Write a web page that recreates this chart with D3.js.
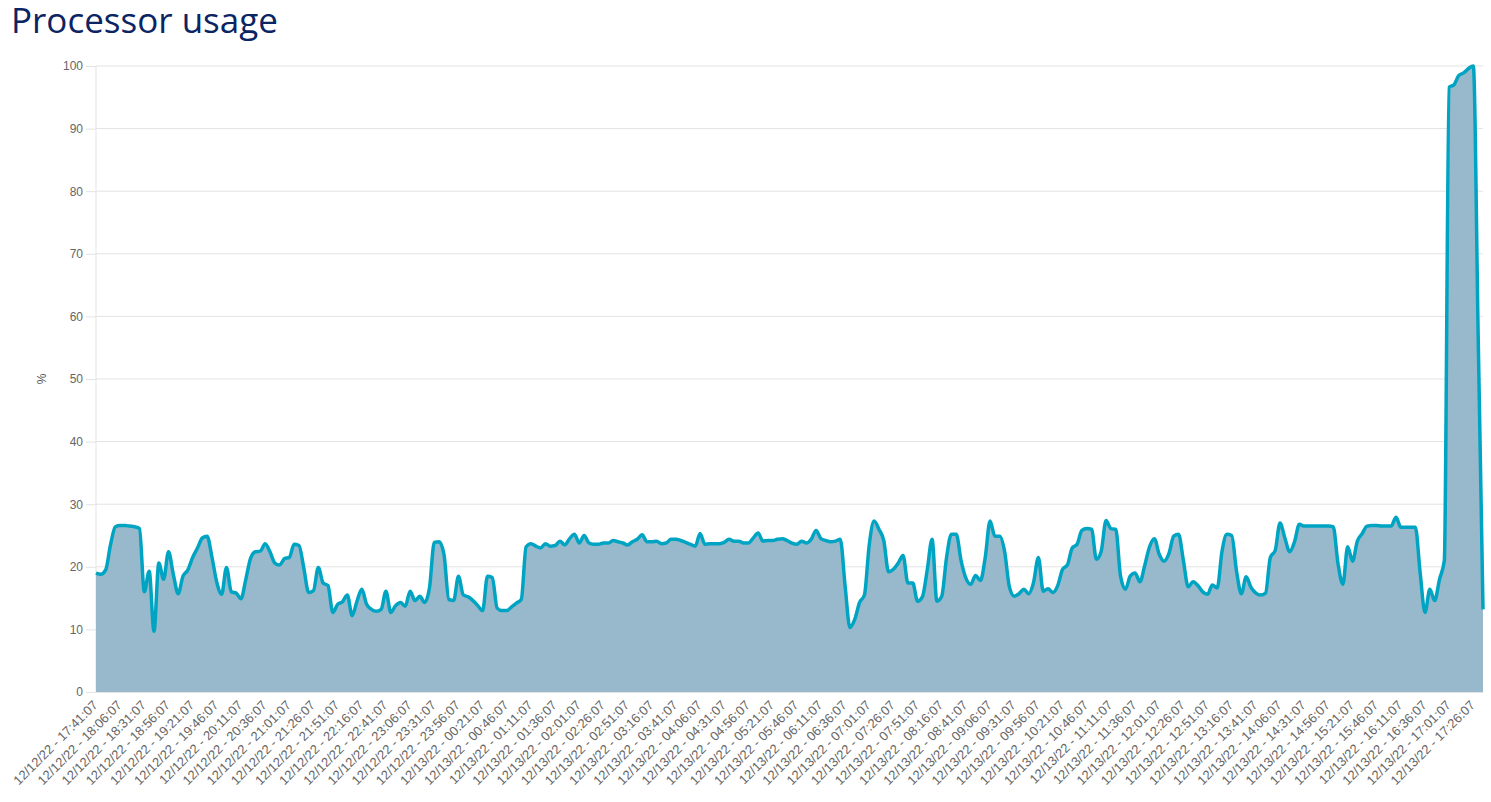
<!DOCTYPE html>
<html>
<head>
<meta charset="utf-8">
<script src="https://cdn.jsdelivr.net/npm/d3@7"></script>
<style>
  html, body { margin: 0; padding: 0; background: #fff; }
  svg { display: block; }
</style>
</head>
<body>
<svg id="chart" width="1491" height="802"></svg>
<script>
const title = "Processor usage";
const yLabel = "%";
const yTicks = [0, 10, 20, 30, 40, 50, 60, 70, 80, 90, 100];

// one sample every 5 minutes, 12/12/22 17:41:07 -> 12/13/22 17:36:07
const usage = [
  19.0, 18.8, 19.5, 23.5, 26.4, 26.6, 26.6, 26.5, 26.4, 26.1,
  16.0, 19.3, 9.7, 20.6, 18.0, 22.4, 18.8, 15.7, 18.5, 19.5,
  21.5, 23.0, 24.6, 24.9, 21.5, 17.5, 15.6, 19.9, 16.0, 15.8,
  14.9, 18.0, 21.4, 22.4, 22.5, 23.7, 22.4, 20.6, 20.3, 21.3,
  21.5, 23.6, 23.4, 19.8, 15.9, 16.2, 19.9, 17.4, 17.0, 12.7,
  14.0, 14.4, 15.5, 12.2, 14.5, 16.4, 14.0, 13.2,
  12.9, 13.2, 16.1, 12.7, 13.8, 14.3, 13.7, 16.1, 14.6, 15.3,
  14.3, 16.6, 23.9, 24.0, 22.0, 14.8, 14.6, 18.5, 15.5, 15.2,
  14.6, 13.8, 13.0, 18.5, 18.3, 13.4, 13.0, 13.0, 13.6, 14.2,
  14.8, 23.2, 23.7, 23.3, 23.0, 23.7, 23.3, 23.4, 24.1, 23.5,
  24.5, 25.2, 23.8, 25.0, 23.8, 23.6, 23.6, 23.8, 23.8, 24.2,
  24.0, 23.8, 23.5, 24.0, 24.4, 25.1, 24.0, 24.0,
  24.1, 23.7, 23.8, 24.4, 24.4, 24.2, 23.9, 23.6, 23.3, 25.3,
  23.6, 23.7, 23.7, 23.7, 23.9, 24.4, 24.1, 24.1, 23.8, 23.8,
  24.6, 25.4, 24.1, 24.2, 24.2, 24.4, 24.5, 24.2, 23.8, 23.6,
  24.1, 23.8, 24.4, 25.8, 24.5, 24.2, 24.0, 24.1, 24.4, 17.0,
  10.3, 11.6, 14.3, 15.5, 23.5, 27.3, 26.0, 24.2, 19.2, 19.6,
  20.6, 21.8, 17.4, 17.4, 14.5, 15.2, 19.5, 24.4,
  14.5, 15.3, 21.5, 25.2, 25.2, 21.0, 18.2, 17.2, 18.6, 17.8,
  21.5, 27.3, 24.9, 24.9, 22.5, 16.8, 15.3, 15.7, 16.4, 15.7,
  17.5, 21.5, 16.1, 16.5, 15.9, 17.0, 19.6, 20.3, 23.0, 23.6,
  25.8, 26.1, 26.0, 21.2, 22.5, 27.4, 26.1, 26.0, 18.5, 16.4,
  18.5, 19.0, 17.6, 20.2, 23.2, 24.5, 22.0, 20.9, 22.1, 24.9,
  25.2, 21.0, 16.8, 17.6, 17.0, 16.0, 15.6, 17.1,
  16.6, 22.5, 25.2, 25.0, 19.3, 15.7, 18.4, 16.7, 15.8, 15.5,
  15.8, 21.5, 22.6, 27.0, 24.6, 22.4, 24.0, 26.8, 26.5, 26.5,
  26.5, 26.5, 26.5, 26.5, 26.4, 20.5, 17.2, 23.2, 20.9, 24.1,
  25.3, 26.5, 26.6, 26.6, 26.5, 26.5, 26.5, 27.9, 26.3, 26.3,
  26.3, 26.3, 19.0, 12.7, 16.4, 14.6, 18.0, 21.0, 96.6, 97.0,
  98.5, 98.9, 99.6, 100, 57.0, 13.2
];

// x-axis labels, one every 5th sample (25 minutes)
const tickLabels = [
  "12/12/22 - 17:41:07", "12/12/22 - 18:06:07", "12/12/22 - 18:31:07", "12/12/22 - 18:56:07",
  "12/12/22 - 19:21:07", "12/12/22 - 19:46:07", "12/12/22 - 20:11:07", "12/12/22 - 20:36:07",
  "12/12/22 - 21:01:07", "12/12/22 - 21:26:07", "12/12/22 - 21:51:07", "12/12/22 - 22:16:07",
  "12/12/22 - 22:41:07", "12/12/22 - 23:06:07", "12/12/22 - 23:31:07", "12/12/22 - 23:56:07",
  "12/13/22 - 00:21:07", "12/13/22 - 00:46:07", "12/13/22 - 01:11:07", "12/13/22 - 01:36:07",
  "12/13/22 - 02:01:07", "12/13/22 - 02:26:07", "12/13/22 - 02:51:07", "12/13/22 - 03:16:07",
  "12/13/22 - 03:41:07", "12/13/22 - 04:06:07", "12/13/22 - 04:31:07", "12/13/22 - 04:56:07",
  "12/13/22 - 05:21:07", "12/13/22 - 05:46:07", "12/13/22 - 06:11:07", "12/13/22 - 06:36:07",
  "12/13/22 - 07:01:07", "12/13/22 - 07:26:07", "12/13/22 - 07:51:07", "12/13/22 - 08:16:07",
  "12/13/22 - 08:41:07", "12/13/22 - 09:06:07", "12/13/22 - 09:31:07", "12/13/22 - 09:56:07",
  "12/13/22 - 10:21:07", "12/13/22 - 10:46:07", "12/13/22 - 11:11:07", "12/13/22 - 11:36:07",
  "12/13/22 - 12:01:07", "12/13/22 - 12:26:07", "12/13/22 - 12:51:07", "12/13/22 - 13:16:07",
  "12/13/22 - 13:41:07", "12/13/22 - 14:06:07", "12/13/22 - 14:31:07", "12/13/22 - 14:56:07",
  "12/13/22 - 15:21:07", "12/13/22 - 15:46:07", "12/13/22 - 16:11:07", "12/13/22 - 16:36:07",
  "12/13/22 - 17:01:07", "12/13/22 - 17:26:07"
];
const tickEvery = 5;

const svg = d3.select("#chart");
const margin = { left: 96, right: 8, top: 66, bottom: 110 };
const W = 1491, H = 802;
const innerW = W - margin.left - margin.right;
const innerH = H - margin.top - margin.bottom;

svg.append("text")
  .attr("x", 11).attr("y", 33)
  .attr("font-family", "'Open Sans', Lato, sans-serif")
  .attr("font-size", 35)
  .attr("fill", "#0b2463")
  .text(title);

const g = svg.append("g").attr("transform", `translate(${margin.left},${margin.top})`);

const x = d3.scaleLinear().domain([0, usage.length - 1]).range([0, innerW]);
const y = d3.scaleLinear().domain([0, 100]).range([innerH, 0]);

const tickFont = "'Liberation Sans', Arial, sans-serif";

// y grid + axis
const yAxis = d3.axisLeft(y).tickValues(yTicks).tickSize(10).tickPadding(3);
const ya = g.append("g").call(yAxis);
ya.attr("font-family", tickFont).attr("font-size", 12);
ya.select(".domain").remove();
ya.selectAll(".tick line").attr("stroke", "#e3e3e3");
ya.selectAll(".tick text").attr("fill", "#666");

g.append("g").selectAll("line").data(yTicks).join("line")
  .attr("x1", 0).attr("x2", innerW)
  .attr("y1", d => y(d)).attr("y2", d => y(d))
  .attr("stroke", "#e3e3e3").attr("stroke-width", 1);

g.append("line").attr("x1", 0).attr("x2", 0).attr("y1", 0).attr("y2", innerH)
  .attr("stroke", "#e3e3e3");

// area + line
const area = d3.area()
  .x((d, i) => x(i)).y0(y(0)).y1(d => y(d))
  .curve(d3.curveMonotoneX);
const line = d3.line()
  .x((d, i) => x(i)).y(d => y(d))
  .curve(d3.curveMonotoneX);

g.append("path").datum(usage).attr("d", area).attr("fill", "#98b9cc");
g.append("path").datum(usage).attr("d", line)
  .attr("fill", "none").attr("stroke", "#00a4c3").attr("stroke-width", 3.5)
  .attr("stroke-linejoin", "round");

// x axis
const xTickVals = tickLabels.map((_, k) => k * tickEvery);
const xAxis = d3.axisBottom(x).tickValues(xTickVals)
  .tickFormat((d) => tickLabels[d / tickEvery]).tickSize(0).tickPadding(0);
const xa = g.append("g").attr("transform", `translate(0,${innerH})`).call(xAxis);
xa.attr("font-family", tickFont).attr("font-size", 13);
xa.select(".domain").attr("stroke", "#e3e3e3");
xa.selectAll(".tick text")
  .attr("fill", "#666")
  .attr("text-anchor", "end")
  .attr("dy", "0")
  .attr("y", 0)
  .attr("transform", "translate(2,14) rotate(-45)");

// y label
svg.append("text")
  .attr("transform", `translate(46,${margin.top + innerH / 2}) rotate(-90)`)
  .attr("text-anchor", "middle")
  .attr("font-family", tickFont)
  .attr("font-size", 12).attr("fill", "#555")
  .text(yLabel);
</script>
</body>
</html>
